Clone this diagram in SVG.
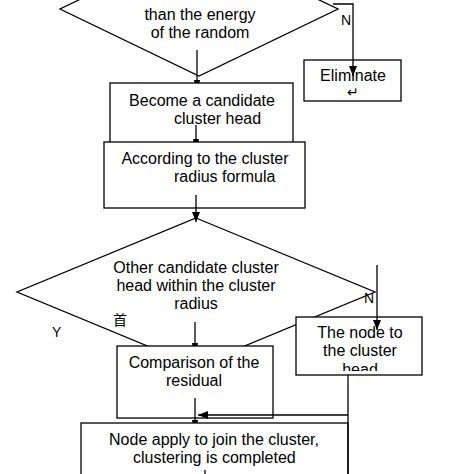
<svg xmlns="http://www.w3.org/2000/svg" width="474" height="474" viewBox="0 0 474 474">
<defs>
<style>
.shape{fill:#fff;stroke:#000;stroke-width:1.3}
.ln{fill:none;stroke:#000;stroke-width:1.3}
.t{font-family:"Liberation Sans",Arial,sans-serif;font-size:16px;fill:#000}
.c{text-anchor:middle}
.lbl{font-family:"Liberation Sans",Arial,sans-serif;font-size:14px;fill:#000}
</style>
<marker id="arr" viewBox="0 0 10 8" refX="10" refY="4" markerWidth="10" markerHeight="8" markerUnits="userSpaceOnUse" orient="auto">
<path d="M0,0 L10,4 L0,8 z" fill="#000"/>
</marker>
<marker id="tick" viewBox="0 0 3 6" refX="3" refY="3" markerWidth="3" markerHeight="6" markerUnits="userSpaceOnUse" orient="auto">
<path d="M0,0 L3,0.5 L3,5.5 L0,6 z" fill="#000"/>
</marker>
<clipPath id="clipNode"><rect x="296" y="317" width="126" height="54"/></clipPath>
</defs>
<rect width="474" height="474" fill="#fff"/>

<g id="decision1">
<polygon class="shape" points="199,-58 338,9 199,76 60,9"/>
<text class="t c" x="200" y="20">than the energy</text>
<text class="t c" x="200" y="38">of the random</text>
</g>

<g id="eliminate">
<rect class="shape" x="304" y="60" width="97" height="41"/>
<text class="t c" x="353" y="81">Eliminate</text>
<text class="lbl c" x="353" y="97" font-size="7">↵</text>
</g>

<g id="candidate">
<rect class="shape" x="110" y="83" width="183" height="70"/>
<text class="t c" x="202" y="106">Become a candidate</text>
<text class="t" x="174" y="124">cluster head</text>
</g>

<g id="radius">
<rect class="shape" x="104" y="142" width="201" height="66"/>
<text class="t c" x="205" y="164">According to the cluster</text>
<text class="t" x="174" y="182">radius formula</text>
</g>

<g id="decision2">
<polygon class="shape" points="196,218 375,292 196,366 17,292"/>
<text class="t c" x="196" y="273">Other candidate cluster</text>
<text class="t c" x="196" y="291">head within the cluster</text>
<text class="t c" x="196" y="309">radius</text>
</g>

<g id="nodehead">
<rect class="shape" x="296" y="317" width="126" height="58"/>
<text class="t c" x="360" y="338">The node to</text>
<text class="t c" x="360" y="356">the cluster</text>
<text class="t c" x="360" y="375" clip-path="url(#clipNode)">head</text>
</g>

<g id="comparison">
<rect class="shape" x="117" y="346" width="156" height="72"/>
<text class="t c" x="194" y="368">Comparison of the</text>
<text class="t c" x="194" y="386">residual</text>
</g>

<g id="join">
<rect class="shape" x="81" y="423" width="267" height="70"/>
<text class="t c" x="214" y="445">Node apply to join the cluster,</text>
<text class="t" x="133" y="463">clustering is completed</text>
<line class="ln" x1="205" y1="470" x2="205" y2="474"/>
</g>

<g id="connectors">
<line class="ln" x1="197" y1="50" x2="197" y2="83" marker-end="url(#tick)"/>
<polyline class="ln" points="333,4 353,4 353,76" marker-end="url(#arr)"/>
<line class="ln" x1="196" y1="125" x2="196" y2="142" marker-end="url(#tick)"/>
<line class="ln" x1="196" y1="195" x2="196" y2="222" marker-end="url(#arr)"/>
<line class="ln" x1="377" y1="265" x2="377" y2="330" marker-end="url(#arr)"/>
<line class="ln" x1="195" y1="322" x2="195" y2="346" marker-end="url(#tick)"/>
<line class="ln" x1="195" y1="398" x2="195" y2="423" marker-end="url(#tick)"/>
<line class="ln" x1="348" y1="375" x2="348" y2="474"/>
<line class="ln" x1="348" y1="415" x2="198" y2="415" marker-end="url(#arr)"/>
</g>

<g id="labels">
<text class="lbl" x="341" y="25">N</text>
<text class="lbl" x="364" y="303" font-size="12">N</text>
<text class="lbl" x="52" y="337">Y</text>
<text class="lbl" x="113" y="325" font-size="12" style="font-family:'Noto Sans CJK SC','Noto Sans CJK JP',sans-serif">首</text>
</g>
</svg>
